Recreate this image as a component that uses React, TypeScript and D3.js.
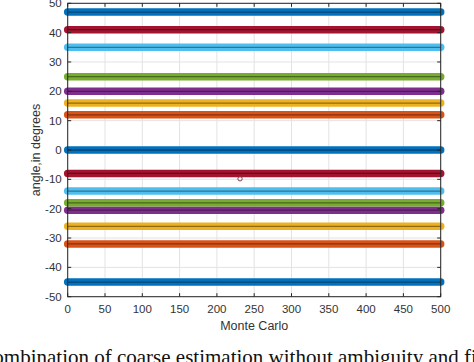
import React from "react";
import * as d3 from "d3";

const seriesValues = [-45, -32, -26, -20.5, -18, -14, -8, 0, 12, 16, 20, 25, 35, 41, 47];
const colorCycle = ["#0072BD", "#D95319", "#EDB120", "#7E2F8E", "#77AC30", "#4DBEEE", "#A2142F"];
const xTicks = [0, 50, 100, 150, 200, 250, 300, 350, 400, 450, 500];
const yTicks = [-50, -40, -30, -20, -10, 0, 10, 20, 30, 40, 50];
const xRange = [0, 500];
const strayPoints = [{ x: 231, y: -9.8 }];
const xLabel = "Monte Carlo";
const yLabel = "angle,in degrees";
const caption = "combination of coarse estimation without ambiguity and fine";

export default function App() {
  const W = 474, H = 362;
  const left = 67.7, right = 440.7, top = 3.3, bottom = 296.7;
  const x = d3.scaleLinear().domain([0, 500]).range([left, right]);
  const y = d3.scaleLinear().domain([-50, 50]).range([bottom, top]);
  const font = "Liberation Sans, Arial, sans-serif";
  const axisColor = "#262626";
  return (
    <svg width={W} height={H} style={{ position: "absolute", left: 0, top: 0, background: "#fff" }}>
      <rect x={0} y={0} width={W} height={H} fill="#fff" />
      {xTicks.map((t) => (
        <line key={"gx" + t} x1={x(t)} x2={x(t)} y1={top} y2={bottom} stroke="#e3e3e3" strokeWidth={1} />
      ))}
      {yTicks.map((t) => (
        <line key={"gy" + t} x1={left} x2={right} y1={y(t)} y2={y(t)} stroke="#e3e3e3" strokeWidth={1} />
      ))}
      {seriesValues.map((v, i) => {
        const c = colorCycle[i % colorCycle.length];
        const g = d3.line<number>().x((d) => x(d)).y(() => y(v));
        return (
          <g key={"s" + i}>
            <path d={g(xRange) || ""} stroke={c} strokeWidth={7.5} strokeLinecap="round" fill="none" />
            <path d={g(xRange) || ""} stroke={d3.color(c)!.darker(1.6).toString()} strokeWidth={1.3} fill="none" opacity={0.9} />
          </g>
        );
      })}
      {strayPoints.map((p, i) => (
        <circle key={"p" + i} cx={x(p.x)} cy={y(p.y)} r={2.2} fill="none" stroke="#8a3a48" strokeWidth={1} />
      ))}
      <rect x={left} y={top} width={right - left} height={bottom - top} fill="none" stroke={axisColor} strokeWidth={1} />
      {xTicks.map((t) => (
        <g key={"tx" + t}>
          <line x1={x(t)} x2={x(t)} y1={bottom} y2={bottom - 3.5} stroke={axisColor} />
          <line x1={x(t)} x2={x(t)} y1={top} y2={top + 3.5} stroke={axisColor} />
          <text x={x(t)} y={bottom + 16} textAnchor="middle" fontFamily={font} fontSize={11.5} fill="#333">{t}</text>
        </g>
      ))}
      {yTicks.map((t) => (
        <g key={"ty" + t}>
          <line x1={left} x2={left + 3.5} y1={y(t)} y2={y(t)} stroke={axisColor} />
          <line x1={right} x2={right - 3.5} y1={y(t)} y2={y(t)} stroke={axisColor} />
          <text x={left - 6} y={y(t) + 4} textAnchor="end" fontFamily={font} fontSize={11.5} fill="#333">{t}</text>
        </g>
      ))}
      <text x={(left + right) / 2} y={bottom + 33} textAnchor="middle" fontFamily={font} fontSize={12.5} fill="#333">{xLabel}</text>
      <text transform={`translate(${40},${(top + bottom) / 2}) rotate(-90)`} textAnchor="middle" fontFamily={font} fontSize={12.5} fill="#333">{yLabel}</text>
      <text x={-16} y={364} fontFamily="Liberation Serif, serif" fontSize={21} fill="#111">{caption}</text>
    </svg>
  );
}
